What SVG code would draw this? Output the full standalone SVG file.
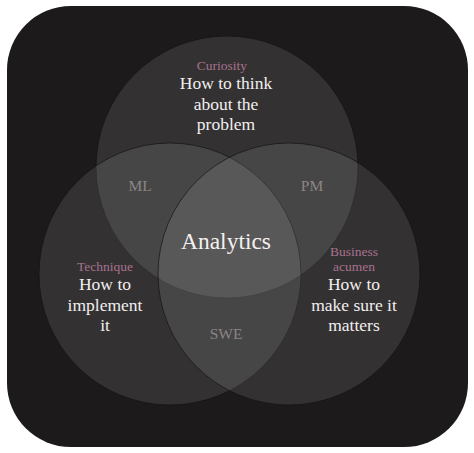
<svg xmlns="http://www.w3.org/2000/svg" width="474" height="453" viewBox="0 0 474 453">
<style>
.c{fill:#ffffff;fill-opacity:0.1;stroke:#141213;stroke-opacity:0.7;stroke-width:1}
text{font-family:"Liberation Serif","DejaVu Serif",serif;text-anchor:middle}
.t{fill:#a8728f;font-size:13.5px}
.m{fill:#f2efef;font-size:17.5px}
.g{fill:#8c8587;font-size:15.5px}
.a{fill:#f4f1f1;font-size:23.5px}
</style>
<rect width="474" height="453" fill="#ffffff"/>
<rect id="background" x="7" y="6" width="461" height="441" rx="64" ry="64" fill="#1c1a1b"/>
<g id="curiosity">
<circle class="c" cx="227" cy="167" r="131"/>
<text class="t" x="222" y="70">Curiosity</text>
<text class="m" x="226" y="89">How to think</text>
<text class="m" x="226" y="110">about the</text>
<text class="m" x="226" y="130">problem</text>
</g>
<g id="technique">
<circle class="c" cx="170" cy="274" r="131"/>
<text class="t" x="105" y="271">Technique</text>
<text class="m" x="105" y="290">How to</text>
<text class="m" x="105" y="311">implement</text>
<text class="m" x="105" y="331">it</text>
</g>
<g id="business">
<circle class="c" cx="289" cy="274" r="131"/>
<text class="t" x="354" y="256">Business</text>
<text class="t" x="354" y="271">acumen</text>
<text class="m" x="354" y="290">How to</text>
<text class="m" x="354" y="311">make sure it</text>
<text class="m" x="354" y="331">matters</text>
</g>
<g id="ml"><text class="g" x="140" y="191">ML</text></g>
<g id="pm"><text class="g" x="312" y="191">PM</text></g>
<g id="swe"><text class="g" x="226" y="339">SWE</text></g>
<g id="analytics"><text class="a" x="226" y="249">Analytics</text></g>
<g id="connectors"/>
</svg>
